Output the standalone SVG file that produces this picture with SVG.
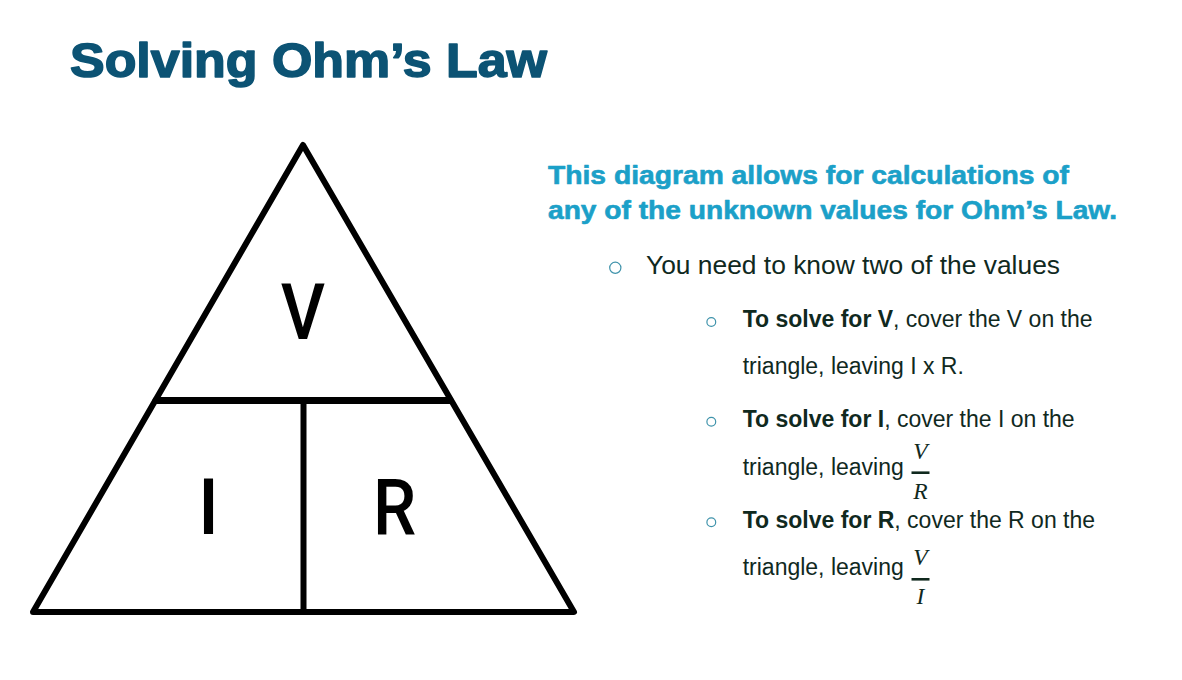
<svg xmlns="http://www.w3.org/2000/svg" width="1182" height="680" viewBox="0 0 1182 680">
<style>
.title{font-family:"Liberation Sans",Arial,sans-serif;font-weight:bold;font-size:49px;fill:#0c5374;stroke:#0c5374;stroke-width:1.6;stroke-linejoin:round}
.sub{font-family:"Liberation Sans",Arial,sans-serif;font-weight:bold;font-size:25px;fill:#1ba0c8;stroke:#1ba0c8;stroke-width:0.6;stroke-linejoin:round}
.body{font-family:"Liberation Sans",Arial,sans-serif;fill:#10291e}
.b1{font-size:26px}
.b2{font-size:23px}
.bold{font-weight:bold}
.frac{font-family:"Liberation Serif","Times New Roman",serif;font-style:italic;font-size:23.5px;fill:#10291e}
.tri{fill:none;stroke:#000;stroke-width:6;stroke-linejoin:round;stroke-linecap:round}
.lab{font-family:Roboto,"Liberation Sans",sans-serif;font-weight:500;font-size:78px;fill:#000}
.bul{fill:none;stroke:#3f93ab;stroke-width:1.2}
</style>
<rect width="1182" height="680" fill="#fff"/>
<text class="title" x="70" y="77" textLength="477" lengthAdjust="spacingAndGlyphs">Solving Ohm’s Law</text>
<g id="triangle">
<polygon class="tri" points="303,145 574,612 33,612"/>
<line class="tri" x1="156" y1="400.5" x2="450" y2="400.5" style="stroke-width:7"/>
<line class="tri" x1="303.5" y1="400.5" x2="303.5" y2="612" style="stroke-linecap:butt"/>
</g>
<g id="node-V"><text class="lab" text-anchor="middle" transform="translate(303,339) scale(0.88,1)">V</text></g>
<g id="node-I"><text class="lab" text-anchor="middle" transform="translate(208.5,534) scale(0.95,1)">I</text></g>
<g id="node-R"><text class="lab" text-anchor="middle" transform="translate(394.5,534) scale(0.88,1)">R</text></g>
<g id="intro">
<text class="sub" x="548" y="183.5" textLength="521" lengthAdjust="spacingAndGlyphs">This diagram allows for calculations of</text>
<text class="sub" x="548" y="218.5" textLength="569" lengthAdjust="spacingAndGlyphs">any of the unknown values for Ohm’s Law.</text>
</g>
<g id="bullet-main">
<circle class="bul" cx="615.3" cy="267.8" r="5.6"/>
<text class="body b1" x="646" y="273.5" textLength="414" lengthAdjust="spacingAndGlyphs">You need to know two of the values</text>
</g>
<g id="bullet-V">
<circle class="bul" cx="711.3" cy="322" r="4.4"/>
<text class="body b2" x="742.7" y="327"><tspan class="bold">To solve for V</tspan>, cover the V on the</text>
<text class="body b2" x="742.7" y="374">triangle, leaving I x R.</text>
</g>
<g id="bullet-I">
<circle class="bul" cx="711.3" cy="421.7" r="4.4"/>
<text class="body b2" x="742.7" y="427"><tspan class="bold">To solve for I</tspan>, cover the I on the</text>
<text class="body b2" x="742.7" y="475">triangle, leaving</text>
<text class="frac" x="920.5" y="458.5" text-anchor="middle">V</text>
<line x1="911.5" y1="472.7" x2="929.5" y2="472.7" stroke="#10291e" stroke-width="2.6"/>
<text class="frac" x="920.5" y="498.5" text-anchor="middle">R</text>
</g>
<g id="bullet-R">
<circle class="bul" cx="711.3" cy="522.3" r="4.4"/>
<text class="body b2" x="742.7" y="527.5"><tspan class="bold">To solve for R</tspan>, cover the R on the</text>
<text class="body b2" x="742.7" y="575">triangle, leaving</text>
<text class="frac" x="920.5" y="564.5" text-anchor="middle">V</text>
<line x1="911.5" y1="579.3" x2="929.5" y2="579.3" stroke="#10291e" stroke-width="2.6"/>
<text class="frac" x="920.5" y="603.5" text-anchor="middle">I</text>
</g>
</svg>
